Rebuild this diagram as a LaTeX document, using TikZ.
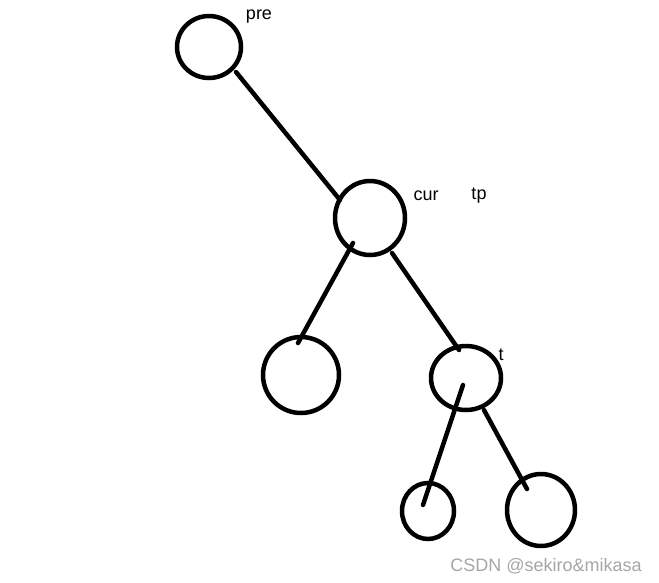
\documentclass[tikz,border=0pt]{standalone}
\usepackage{fontspec}
\setmainfont{Liberation Sans}
\begin{document}
\begin{tikzpicture}[x=1pt,y=-1pt,
  nd/.style={draw=black,line width=4.5pt},
  ln/.style={line width=4.5pt,line cap=round},
  lb/.style={font=\fontsize{18}{18}\selectfont,inner sep=0pt}]
\useasboundingbox[fill=white] (0,0) rectangle (659,582);
\draw[nd] (209,47) ellipse [x radius=32,y radius=31];
\draw[nd] (370,218) ellipse [x radius=35,y radius=37];
\draw[nd] (301,375) ellipse [x radius=38,y radius=38];
\draw[nd] (466,378) ellipse [x radius=35,y radius=32];
\draw[nd] (428,511) ellipse [x radius=26,y radius=28];
\draw[nd] (541,510) ellipse [x radius=34,y radius=36];
\coordinate (a1) at (236,72); \coordinate (a2) at (340,200);
\coordinate (b1) at (353,243); \coordinate (b2) at (298,343);
\coordinate (c1) at (392,253); \coordinate (c2) at (459,350);
\coordinate (d1) at (463,385); \coordinate (d2) at (423,505);
\coordinate (e1) at (484,410); \coordinate (e2) at (527,489);
\draw[ln] (a1) -- (a2);
\draw[ln] (b1) -- (b2);
\draw[ln] (c1) -- (c2);
\draw[ln] (d1) -- (d2);
\draw[ln] (e1) -- (e2);
\node[lb] (pre) at (259,17) {pre};
\node[lb] (cur) at (426,196) {cur};
\node[lb] (tp) at (479,196) {tp};
\node[lb] (t) at (501,355) {t};
\node[lb,text=gray!70] (wm) at (546,566) {CSDN @sekiro\&mikasa};
\end{tikzpicture}
\end{document}
